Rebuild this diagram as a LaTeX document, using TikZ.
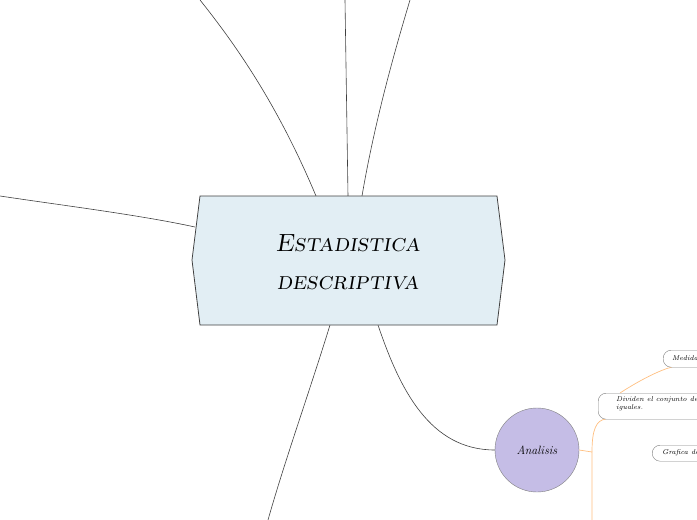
\documentclass[tikz,border=0pt]{standalone}
\begin{document}
\begin{tikzpicture}[x=1pt,y=-1pt,
  conn/.style={draw=black!75,line width=0.6pt},
  oconn/.style={draw=orange!50,line width=0.7pt},
  sub/.style={draw=gray,rounded corners=8pt,fill=white,anchor=north west,inner sep=0pt},
  subtext/.style={font=\itshape\scriptsize,inner sep=0pt,align=left}]
\useasboundingbox (0,0) rectangle (697,520);
\definecolor{mainfill}{HTML}{E2EEF4}
\definecolor{circfill}{HTML}{C5BDE6}
\coordinate (t1) at (200,0);
\coordinate (t2) at (345,0);
\coordinate (t3) at (410,0);
\coordinate (l1) at (0,196);
\coordinate (b1) at (268,520);
\draw[conn] (316,196) .. controls (280,110) and (240,50) .. (t1);
\draw[conn] (348,196) -- (t2);
\draw[conn] (362,196) .. controls (375,120) and (395,50) .. (t3);
\draw[conn] (195,227) .. controls (140,215) and (60,205) .. (l1);
\draw[conn] (330,325) .. controls (310,390) and (285,460) .. (b1);
\draw[conn] (378,325) .. controls (400,390) and (430,450) .. (495,450);
\filldraw[draw=black!75,line width=0.8pt,fill=mainfill] (200,196) -- (497,196) -- (505,260) -- (497,325) -- (200,325) -- (192,260) -- cycle;
\node[font=\itshape\Huge,align=center] (mt) at (348,262) {\textsc{Estadistica}\\[8pt]\textsc{descriptiva}};
\node[circle,draw=gray,fill=circfill,minimum size=84pt,font=\itshape\large] (an) at (537,450) {Analisis};
\coordinate (j) at (592,452);
\coordinate (jb) at (592,520);
\draw[oconn] (an.east) -- (j) -- (jb);
\draw[oconn] (j) .. controls (592,430) and (596,420) .. (606,419);
\draw[oconn] (620,393) .. controls (640,380) and (660,370) .. (672,367);
\node[sub,minimum width=60pt,minimum height=17pt] (med) at (663,350) {};
\node[subtext,anchor=west] at (672,358.5) {Medidas};
\node[sub,minimum width=120pt,minimum height=26pt] (div) at (598,393) {};
\node[subtext,anchor=north west] at (616,396) {Dividen el conjunto de datos\\iguales.};
\node[sub,minimum width=60pt,minimum height=16pt] (gra) at (652,445) {};
\node[subtext,anchor=west] at (662,453) {Grafica de};
\end{tikzpicture}
\end{document}
